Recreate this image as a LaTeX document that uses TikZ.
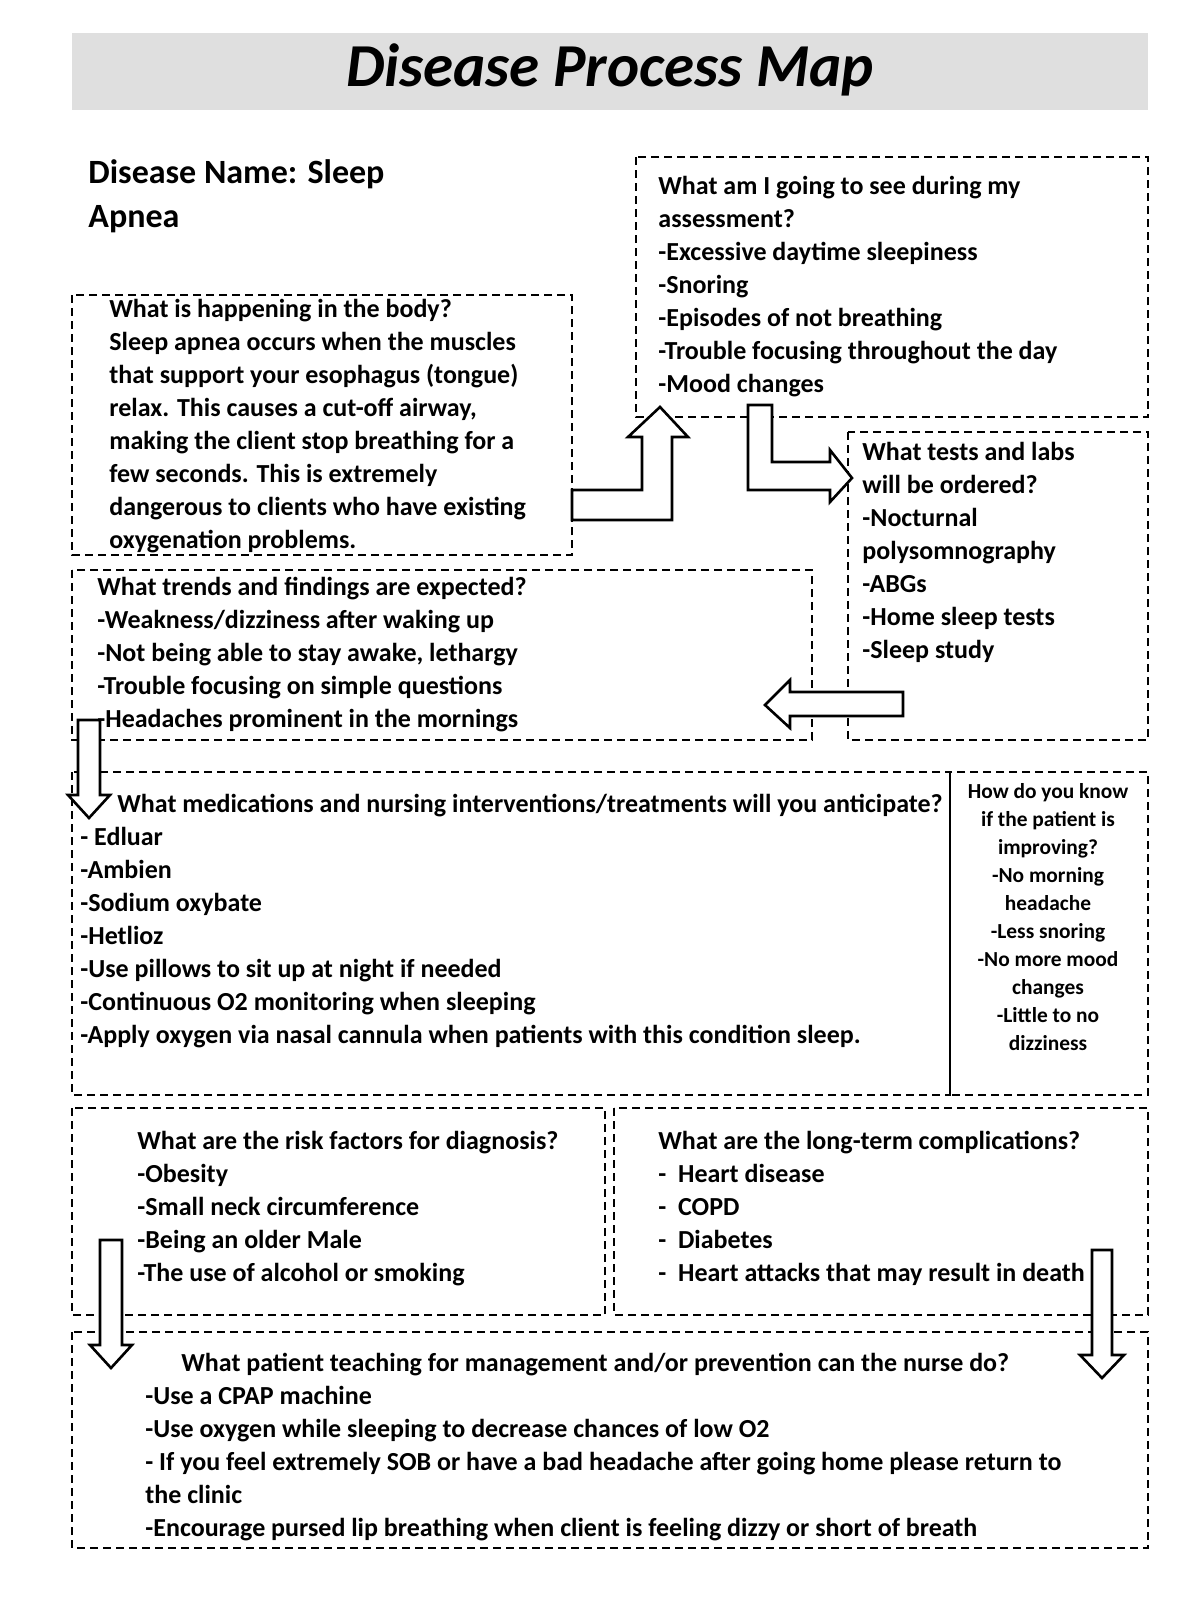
\documentclass[tikz,border=0pt]{standalone}
\usepackage{fontspec}
\setmainfont{Carlito}
\begin{document}
\begin{tikzpicture}[x=0.5pt,y=-0.5pt,
  box/.style={draw,line width=1.1pt,dash pattern=on 4pt off 2.5pt},
  barrow/.style={draw,fill=white,line width=1.3pt,line join=miter},
  txt/.style={anchor=north west,align=left,inner sep=0pt,font=\bfseries\fontsize{13}{16.5}\selectfont},
  small/.style={anchor=north,align=center,inner sep=0pt,font=\bfseries\fontsize{10.7}{14}\selectfont}]
\fill[gray!25] (72,33) rectangle (1148,110);
\node (title) at (610,70) {\fontsize{30.5}{34}\selectfont\bfseries\itshape Disease Process Map};
\node[txt,font=\bfseries\fontsize{17}{22}\selectfont] (dn) at (88,159) {Disease Name: Sleep\\Apnea};
% boxes
\draw[box] (636,157) rectangle (1148,417);
\draw[box] (72,295) rectangle (572,555);
\draw[box] (72,570) rectangle (812,740);
\draw[box] (848,432) rectangle (1148,740);
\draw[box] (72,772) rectangle (950,1095);
\draw[box] (950,772) rectangle (1148,1095);
\draw[box] (72,1108) rectangle (605,1315);
\draw[box] (614,1108) rectangle (1148,1315);
\draw[box] (72,1332) rectangle (1148,1548);
% texts
\node[txt] (see) at (658,176) {What am I going to see during my\\assessment?\\-Excessive daytime sleepiness\\-Snoring\\-Episodes of not breathing\\-Trouble focusing throughout the day\\-Mood changes};
\node[txt] (body) at (109,299) {What is happening in the body?\\Sleep apnea occurs when the muscles\\that support your esophagus (tongue)\\relax. This causes a cut-off airway,\\making the client stop breathing for a\\few seconds. This is extremely\\dangerous to clients who have existing\\oxygenation problems.};
\node[txt] (tests) at (862,442) {What tests and labs\\will be ordered?\\-Nocturnal\\polysomnography\\-ABGs\\-Home sleep tests\\-Sleep study};
\node[txt] (trends) at (97,577) {What trends and findings are expected?\\-Weakness/dizziness after waking up\\-Not being able to stay awake, lethargy\\-Trouble focusing on simple questions\\-Headaches prominent in the mornings};
\node[txt] (medh) at (117,794) {What medications and nursing interventions/treatments will you anticipate?};
\node[txt] (meds) at (80,827) {- Edluar\\-Ambien\\-Sodium oxybate\\-Hetlioz\\-Use pillows to sit up at night if needed\\-Continuous O2 monitoring when sleeping\\-Apply oxygen via nasal cannula when patients with this condition sleep.};
\node[small] (imp) at (1048,783) {How do you know\\if the patient is\\improving?\\-No morning\\headache\\-Less snoring\\-No more mood\\changes\\-Little to no\\dizziness};
\node[txt] (risk) at (137,1131) {What are the risk factors for diagnosis?\\-Obesity\\-Small neck circumference\\-Being an older Male\\-The use of alcohol or smoking};
\node[txt] (comp) at (658,1131) {What are the long-term complications?\\-\ \ Heart disease\\-\ \ COPD\\-\ \ Diabetes\\-\ \ Heart attacks that may result in death};
\node[txt] (teachh) at (181,1353) {What patient teaching for management and/or prevention can the nurse do?};
\node[txt] (teach) at (145,1386) {-Use a CPAP machine\\-Use oxygen while sleeping to decrease chances of low O2\\- If you feel extremely SOB or have a bad headache after going home please return to\\the clinic\\-Encourage pursed lip breathing when client is feeling dizzy or short of breath};
% block arrows
\draw[barrow] (572,490)--(642,490)--(642,437)--(628,437)--(660,407)--(688,437)--(672,437)--(672,520)--(572,520)--cycle;
\draw[barrow] (748,405)--(772,405)--(772,462)--(830,462)--(830,450)--(852,478)--(830,502)--(830,490)--(748,490)--cycle;
\draw[barrow] (903,692)--(790,692)--(790,680)--(765,705)--(790,728)--(790,716)--(903,716)--cycle;
\draw[barrow] (78,720)--(100,720)--(100,795)--(110,795)--(89,818)--(68,795)--(78,795)--cycle;
\draw[barrow] (100,1240)--(122,1240)--(122,1345)--(132,1345)--(111,1368)--(90,1345)--(100,1345)--cycle;
\draw[barrow] (1092,1250)--(1112,1250)--(1112,1355)--(1124,1355)--(1102,1378)--(1080,1355)--(1092,1355)--cycle;
\pgfresetboundingbox
\useasboundingbox (0,0) rectangle (1200,1600);
\end{tikzpicture}
\end{document}
